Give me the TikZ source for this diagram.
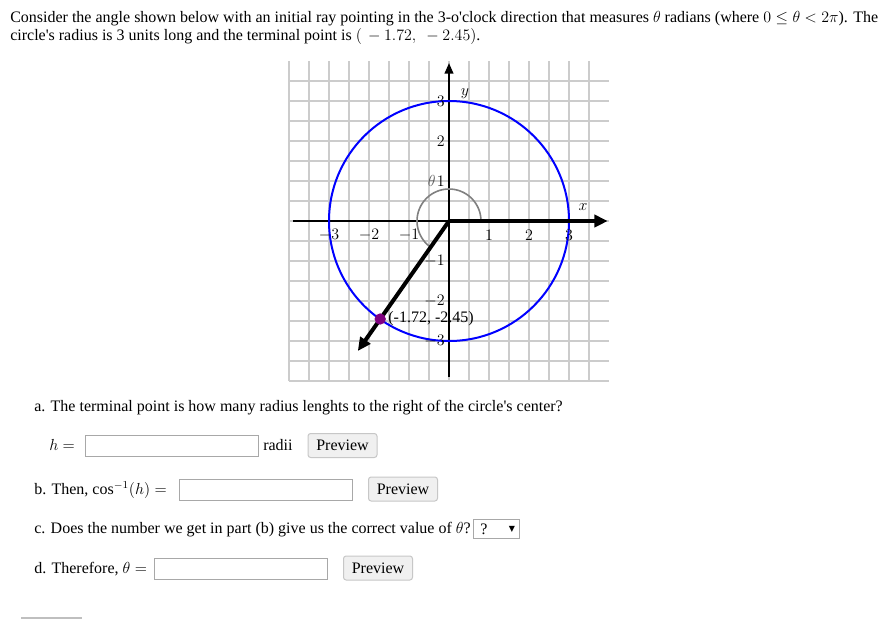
\documentclass[tikz,border=0pt]{standalone}
\usepackage{fontspec}
\setmainfont{Liberation Serif}
\newfontfamily\dejavu{DejaVu Sans}
\usetikzlibrary{arrows.meta}
\definecolor{webpurple}{RGB}{128,0,128}
\newcommand\ap{\textquotesingle}
\tikzset{
  txt/.style={anchor=base west, inner sep=0pt, font=\fontsize{12}{14}\selectfont},
  gridline/.style={draw=black!20, line width=1.5pt},
  axisline/.style={draw=black, line width=1.5pt},
  rayline/.style={draw=black, line width=3pt, -{Triangle[length=10pt,width=9pt]}},
  ticklab/.style={inner sep=0pt, font=\fontsize{11.5}{13}\selectfont},
  inbox/.style={draw=black!34, line width=0.75pt, fill=white, minimum width=129.75pt, minimum height=15.75pt, inner sep=0pt},
  btn/.style={draw=black!22, fill=black!6, line width=0.75pt, rounded corners=2pt, minimum width=51.75pt, minimum height=18pt, inner sep=0pt, font=\fontsize{12}{14}\selectfont},
}
\begin{document}
\begin{tikzpicture}[x=0.75pt,y=-0.75pt]
\useasboundingbox (0,0) rectangle (896,619);
\fill[white] (0,0) rectangle (896,619);

% header
\node[txt] (l1) at (10,22) {Consider the angle shown below with an initial ray pointing in the 3-o\ap clock direction that measures $\theta$ radians (where $0\le\theta<2\pi$). The};
\node[txt] (l2) at (10,40) {circle\ap s radius is 3 units long and the terminal point is $(\,{}-{}1.72,\ {}-{}2.45)$.};

% graph
\begin{scope}[shift={(449,221)}, x=30pt, y=30pt]
  \foreach \i in {-4,-3.5,...,3.6} \draw[gridline] (\i,-4) -- (\i,4);
  \foreach \j in {-4,-3.5,...,3.6} \draw[gridline] (-4,\j) -- (4,\j);
  \coordinate (O) at (0,0);
  \coordinate (xl) at (-3.9,0);
  \coordinate (xr) at (3.97,0);
  \coordinate (yb) at (0,-3.9);
  \coordinate (yt) at (0,3.95);
  \coordinate (tr) at (-2.28,-3.25);
  \draw[axisline] (xl) -- (O);
  \draw[axisline] (yb) -- (O);
  \draw[axisline, -{Triangle[length=8pt,width=6.5pt]}] (O) -- (yt);
  \draw[blue, line width=1.5pt] (O) circle[radius=3];
  \draw[black!50, line width=1.2pt] (0.8,0) arc[start angle=0, end angle=234.9, radius=0.8];
  \draw[rayline] (O) -- (xr);
  \draw[rayline] (O) -- (tr);
  \node[circle, fill=webpurple, inner sep=0pt, minimum size=8.5pt] (P) at (-1.72,-2.45) {};
  \node[anchor=west, inner sep=1.5pt, font=\fontsize{12}{14}\selectfont] (Pl) at (P.east) {(-1.72, -2.45)};
  % tick labels
  \foreach \v/\n in {-3/a,-2/b,-1/c,1/d,2/e,3/f} \node[ticklab] (x\n) at (\v,-0.35) {$\v$};
  \foreach \v/\n in {-3/a,-2/b,-1/c,1/d,2/e,3/f} \node[ticklab, anchor=east] (y\n) at (-0.1,\v) {$\v$};
  \node[ticklab, anchor=east, text=black!65] (th) at (-0.33,1) {$\theta$};
  \node[ticklab] (ylab) at (0.4,3.18) {$y$};
  \node[ticklab] (xlab) at (3.35,0.35) {$x$};
\end{scope}

% questions
\node[txt] (qa) at (34,411) {a. The terminal point is how many radius lenghts to the right of the circle\ap s center?};
\node[txt] (ha) at (49,450) {$h=$};
\node[inbox] (ba) at (171.5,445.5) {};
\node[txt] (ra) at (263,450) {radii};
\node[btn] (pa) at (342.5,445.5) {Preview};

\node[txt] (qb) at (34,494) {b. Then, $\cos^{-1}(h)=$};
\node[inbox] (bb) at (265.5,489.5) {};
\node[btn] (pb) at (403,489) {Preview};

\node[txt] (qc) at (34,533) {c. Does the number we get in part (b) give us the correct value of $\theta$?};
\node[draw=black!34, line width=0.75pt, minimum width=34.5pt, minimum height=14.25pt, inner sep=0pt] (sel) at (496,529) {};
\node[txt] (q) at (480,534) {?};
\node[inner sep=0pt, font=\dejavu\fontsize{6}{7}\selectfont] (tri) at (512,529) {▼};

\node[txt] (qd) at (34,573) {d. Therefore, $\theta=$};
\node[inbox] (bd) at (240.5,568.5) {};
\node[btn] (pd) at (378,568) {Preview};

\coordinate (g1) at (21,618);
\coordinate (g2) at (82,618);
\draw[black!25, line width=1pt] (g1) -- (g2);
\end{tikzpicture}
\end{document}
